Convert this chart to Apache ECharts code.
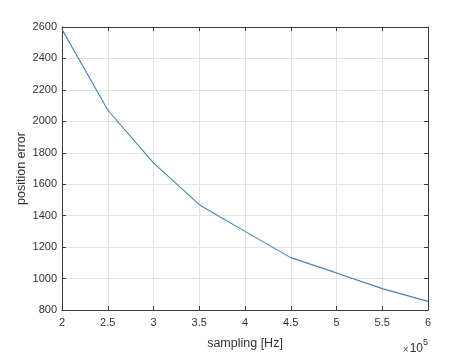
<!DOCTYPE html>
<html>
<head>
<meta charset="utf-8">
<script src="https://cdn.jsdelivr.net/npm/echarts@6/dist/echarts.min.js"></script>
<style>
  html, body { margin: 0; padding: 0; background: #fff; }
  #chart { width: 474px; height: 355px; }
</style>
</head>
<body>
<div id="chart"></div>
<script>
// sampling frequency in units of 1e5 Hz
var sampling = [2, 2.5, 3, 3.5, 4, 4.5, 5, 5.5, 6];
var positionError = [2585, 2072, 1736, 1470, 1300, 1133, 1036, 936, 855];
var xTicks = [2, 2.5, 3, 3.5, 4, 4.5, 5, 5.5, 6];
var yTicks = [800, 1000, 1200, 1400, 1600, 1800, 2000, 2200, 2400, 2600];

var FONT = 'Liberation Sans, Arial, Helvetica, sans-serif';
var AXIS_COLOR = '#3a3a3a';
var TEXT_COLOR = '#333333';
var GRID_COLOR = '#e3e3e3';

var points = sampling.map(function (x, i) { return [x, positionError[i]]; });

var chart = echarts.init(document.getElementById('chart'), null, { renderer: 'canvas' });
chart.setOption({
  animation: false,
  backgroundColor: '#ffffff',
  grid: { left: 62, top: 27, width: 366, height: 288, containLabel: false },
  xAxis: [{
    type: 'value', position: 'bottom',
    min: xTicks[0], max: xTicks[xTicks.length - 1], interval: 0.5,
    name: 'sampling [Hz]', nameLocation: 'middle', nameGap: 27, nameMoveOverlap: false,
    nameTextStyle: { fontFamily: FONT, fontSize: 12.5, color: TEXT_COLOR },
    axisLine: { show: true, onZero: false, lineStyle: { color: AXIS_COLOR, width: 1 } },
    axisTick: { show: true, inside: true, length: 4, lineStyle: { color: AXIS_COLOR } },
    axisLabel: { margin: 7, fontFamily: FONT, fontSize: 11, color: TEXT_COLOR,
      formatter: function (v) { return String(v); } },
    splitLine: { show: true, lineStyle: { color: GRID_COLOR, width: 1 } }
  }, {
    type: 'value', position: 'top',
    min: xTicks[0], max: xTicks[xTicks.length - 1], interval: 0.5,
    axisLine: { show: true, onZero: false, lineStyle: { color: AXIS_COLOR, width: 1 } },
    axisTick: { show: true, inside: true, length: 4, lineStyle: { color: AXIS_COLOR } },
    axisLabel: { show: false },
    splitLine: { show: false }
  }],
  yAxis: [{
    type: 'value', position: 'left',
    min: yTicks[0], max: yTicks[yTicks.length - 1], interval: 200,
    name: 'position error', nameLocation: 'middle', nameGap: 34, nameMoveOverlap: false,
    nameTextStyle: { fontFamily: FONT, fontSize: 12.5, color: TEXT_COLOR },
    axisLine: { show: true, onZero: false, lineStyle: { color: AXIS_COLOR, width: 1 } },
    axisTick: { show: true, inside: true, length: 4, lineStyle: { color: AXIS_COLOR } },
    axisLabel: { margin: 5, fontFamily: FONT, fontSize: 11, color: TEXT_COLOR,
      formatter: function (v) { return String(v); } },
    splitLine: { show: true, lineStyle: { color: GRID_COLOR, width: 1 } }
  }, {
    type: 'value', position: 'right',
    min: yTicks[0], max: yTicks[yTicks.length - 1], interval: 200,
    axisLine: { show: true, onZero: false, lineStyle: { color: AXIS_COLOR, width: 1 } },
    axisTick: { show: true, inside: true, length: 4, lineStyle: { color: AXIS_COLOR } },
    axisLabel: { show: false },
    splitLine: { show: false }
  }],
  graphic: [{
    type: 'text',
    right: 46, top: 338,
    style: {
      text: '{x|\u00d7}{b|10}{s|5}',
      rich: {
        x: { fontFamily: FONT, fontSize: 10, fill: '#555', verticalAlign: 'bottom', padding: [0, 1, 0, 0] },
        b: { fontFamily: FONT, fontSize: 12, fill: TEXT_COLOR, verticalAlign: 'bottom' },
        s: { fontFamily: FONT, fontSize: 9, fill: TEXT_COLOR, verticalAlign: 'top', padding: [0, 0, 8, 0] }
      }
    }
  }],
  series: [{
    type: 'line',
    xAxisIndex: 0, yAxisIndex: 0,
    data: points,
    showSymbol: false,
    smooth: false,
    lineStyle: { color: '#4282b5', width: 1.1 },
    itemStyle: { color: '#4282b5' }
  }]
});
</script>
</body>
</html>
